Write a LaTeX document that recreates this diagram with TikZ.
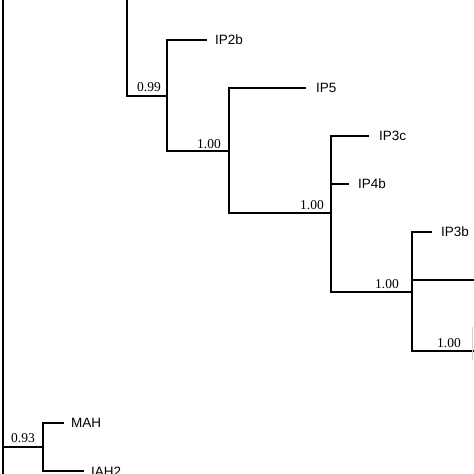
\documentclass[tikz,border=0pt]{standalone}
\usepackage{fontspec}
\setmainfont{Liberation Serif}
\newfontfamily\leaffont{Liberation Sans}
\begin{document}
\begin{tikzpicture}[x=1pt,y=1pt,
  branch/.style={line width=1.3pt,line cap=rect},
  leaf/.style={anchor=west,inner sep=0pt,font=\leaffont\fontsize{13.5}{14}\selectfont},
  support/.style={anchor=base east,inner sep=0pt,font=\fontsize{13.5}{14}\selectfont}]
\useasboundingbox (0,0) rectangle (474,-474);
\clip (0,0) rectangle (474,-474);
\fill[white] (0,0) rectangle (474,-474);
% internal nodes
\coordinate (roottop) at (3,10);
\coordinate (rootbot) at (3,-490);
\coordinate (rootj) at (3,-447);
\coordinate (ctop) at (127,10);
\coordinate (n099) at (167,-96);
\coordinate (n100a) at (229,-151);
\coordinate (n100b) at (331,-213);
\coordinate (n100c) at (412,-292);
\coordinate (n093) at (43,-447);
\coordinate (tmid) at (490,-280);
\coordinate (tbot) at (490,-351);
% leaves
\node[leaf] (IP2b) at (215,-40) {IP2b};
\node[leaf] (IP5) at (316,-88) {IP5};
\node[leaf] (IP3c) at (379,-136) {IP3c};
\node[leaf] (IP4b) at (358,-184) {IP4b};
\node[leaf] (IP3b) at (441,-232) {IP3b};
\node[leaf] (MAH) at (71,-423) {MAH};
\node[leaf] (IAH2) at (91,-472) {IAH2};
% branches
\draw[branch] (roottop) -- (rootbot);
\draw[branch] (rootj) -- (n093);
\draw[branch] (n093) |- ([xshift=-8pt]MAH.west);
\draw[branch] (n093) |- ([xshift=-8pt,yshift=1pt]IAH2.west);
\draw[branch] (ctop) |- (n099);
\draw[branch] (n099) |- ([xshift=-9pt]IP2b.west);
\draw[branch] (n099) |- (n100a);
\draw[branch] (n100a) |- ([xshift=-11pt]IP5.west);
\draw[branch] (n100a) |- (n100b);
\draw[branch] (n100b) |- ([xshift=-11pt]IP3c.west);
\draw[branch] (n100b |- IP4b.west) -- ([xshift=-10pt]IP4b.west);
\draw[branch] (n100b) |- (n100c);
\draw[branch] (n100c) |- ([xshift=-10pt]IP3b.west);
\draw[branch] (n100c |- tmid) -- (tmid);
\draw[branch] (n100c) |- (tbot);
\draw[gray!35,line width=0.8pt] (472,-327) -- (472,-360);
% support values
\node[support] (s099) at (161,-91) {0.99};
\node[support] (s100a) at (221,-148) {1.00};
\node[support] (s100b) at (324,-209) {1.00};
\node[support] (s100c) at (399,-288) {1.00};
\node[support] (s100d) at (461,-347) {1.00};
\node[support] (s093) at (35,-442) {0.93};
\end{tikzpicture}
\end{document}
